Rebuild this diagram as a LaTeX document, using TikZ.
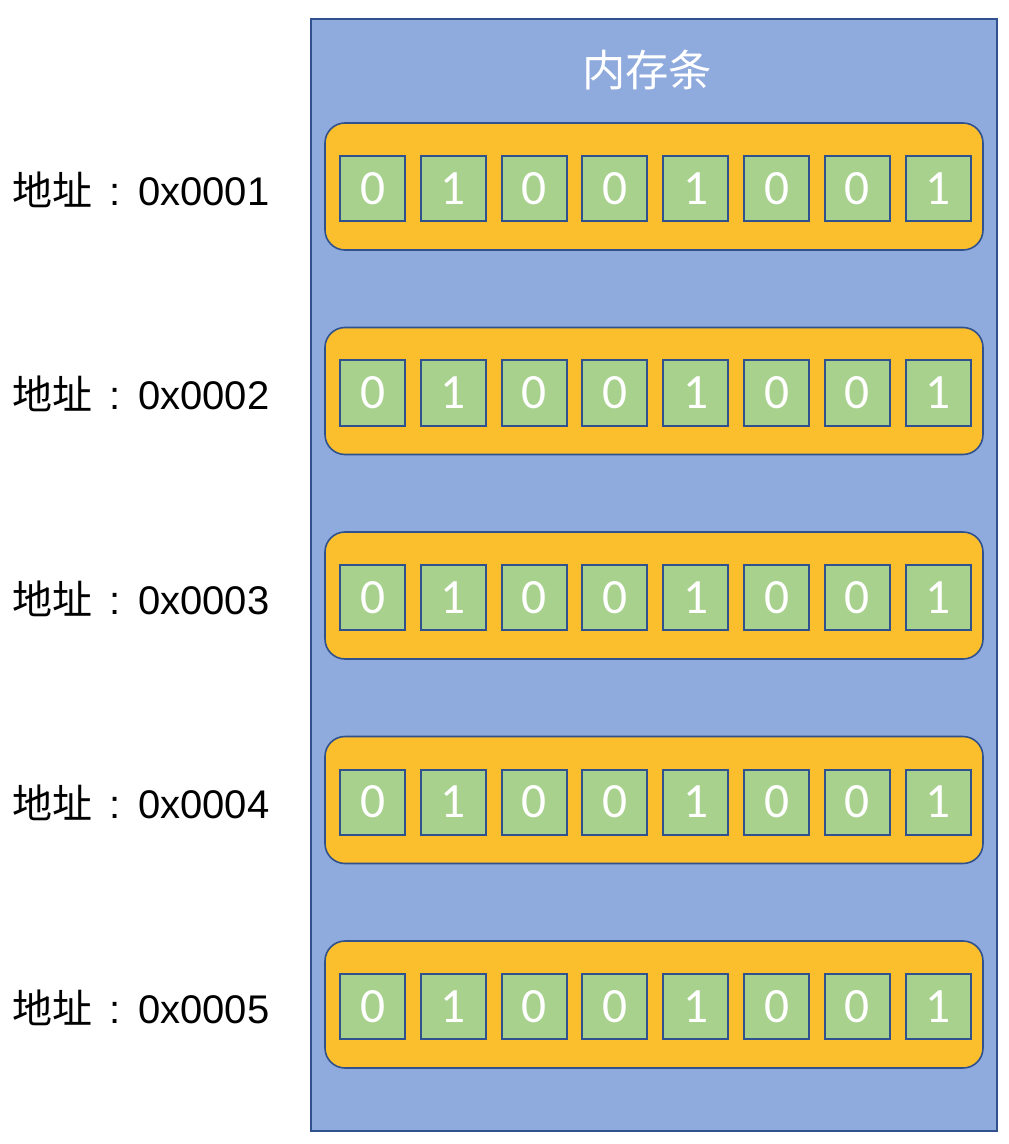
\documentclass[tikz,border=0pt]{standalone}
\usepackage{fontspec}
\setmainfont{Noto Sans CJK SC}
\newfontfamily\bitfont{Carlito}
\newfontfamily\hexfont{Liberation Sans}
\usepackage{tikz}
\usetikzlibrary{positioning}
\usepackage{xcolor}
\definecolor{stickblue}{RGB}{143,170,220}
\definecolor{edgeblue}{RGB}{47,82,143}
\definecolor{bytegold}{RGB}{251,190,45}
\definecolor{bitgreen}{RGB}{169,209,142}

\tikzset{
  bitcell/.style={draw=edgeblue, fill=bitgreen, line width=1.5pt, minimum size=48.75pt,
    inner sep=0pt, text=white, font=\bitfont\fontsize{37}{40}\selectfont},
  bytebar/.style={draw=edgeblue, fill=bytegold, line width=1.2pt, rounded corners=15pt,
    minimum width=493.5pt, minimum height=95.25pt},
  addrlabel/.style={anchor=west, inner sep=0pt, font=\fontsize{30}{34}\selectfont}
}

\begin{document}
\begin{tikzpicture}[x=0.75pt, y=-0.75pt]
  \useasboundingbox (0,0) rectangle (1008,1144);
  % the memory stick
  \node[draw=edgeblue, fill=stickblue, line width=1.5pt, minimum width=514.5pt,
    minimum height=834pt] (stick) at (654,575) {};
  \node[text=white, font=\fontsize{32.5}{36}\selectfont] (title) at (647,70) {内存条};
  % one byte per row
  \foreach \r in {1,...,5} {
    \pgfmathsetmacro{\yy}{186.5+(\r-1)*204.5}
    \node[bytebar] (bar\r) at (654,\yy) {};
    \node[addrlabel] (addr\r) at (12,\yy+3)
      {地址\makebox[1.15em][c]{\hexfont :}{\hexfont 0x000\r}};
    \foreach \b [count=\j] in {0,1,0,0,1,0,0,1} {
      \node[bitcell] (bit\r-\j) at ({372.5+(\j-1)*80.8},\yy+2) {\b};
    }
  }
\end{tikzpicture}
\end{document}
